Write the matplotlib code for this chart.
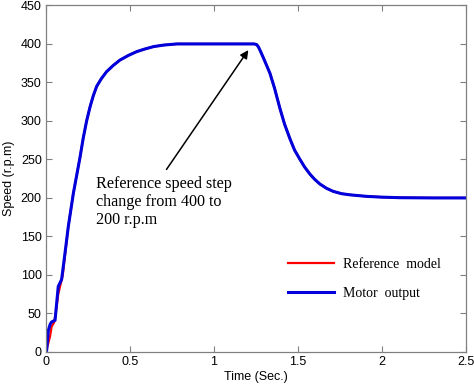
import matplotlib.pyplot as plt

## data ##
motor_t = [0, 0.004, 0.014, 0.025, 0.034, 0.054, 0.060, 0.073, 0.093, 0.113, 0.133,
           0.163, 0.202, 0.222, 0.242, 0.262, 0.282, 0.302, 0.33, 0.361, 0.40, 0.44,
           0.49, 0.54, 0.59, 0.64, 0.70, 0.78, 1.0, 1.24, 1.255, 1.265, 1.28, 1.30,
           1.333, 1.36, 1.393, 1.42, 1.452, 1.48, 1.512, 1.54, 1.571, 1.60, 1.631,
           1.67, 1.71, 1.76, 1.81, 1.91, 2.0, 2.107, 2.3, 2.5]
motor_speed = [0, 2, 28, 36, 39, 41, 55, 85, 94, 128, 163,
               206, 252, 278, 300, 318, 333, 345, 355, 364, 372, 379,
               385, 390, 393.5, 396.5, 398.5, 400, 400, 400, 399, 396, 389, 379,
               362, 343, 316, 296, 277, 262, 250, 240, 231, 224, 218,
               212.5, 208.5, 205.5, 204, 202, 201, 200.3, 200, 200]

# reference model: own start, then hidden under the motor trace
ref_t = [0, 0.012, 0.024, 0.034, 0.048, 0.058, 0.073, 0.10] + motor_t[10:]
ref_speed = [0, 10, 20, 33, 38, 50, 75, 100] + motor_speed[10:]

x_ticks = [0, 0.5, 1, 1.5, 2, 2.5]
y_ticks = [0, 50, 100, 150, 200, 250, 300, 350, 400, 450]

fig = plt.figure(figsize=(4.74, 3.88), dpi=100)
ax = fig.add_axes([0.097, 0.093, 0.886, 0.893])

ax.plot(ref_t, ref_speed, color='#ff0000', lw=1.6, label='Reference  model')
ax.plot(motor_t, motor_speed, color='#0000dd', lw=2.2, label='Motor  output')

ax.set_xlim(0, 2.5)
ax.set_ylim(0, 450)
ax.set_xticks(x_ticks)
ax.set_xticklabels(['0', '0.5', '1', '1.5', '2', '2.5'])
ax.set_yticks(y_ticks)

ax.tick_params(direction='in', top=True, right=True, length=4, width=0.8,
               color='#808080', labelsize=9, pad=3)
for lbl in ax.get_xticklabels() + ax.get_yticklabels():
    lbl.set_family('Liberation Sans')
for sp in ax.spines.values():
    sp.set_color('#808080')
    sp.set_linewidth(0.9)

ax.set_xlabel('Time (Sec.)', fontsize=9, family='Liberation Sans', labelpad=2)
ax.set_ylabel('Speed (r.p.m)', fontsize=9, family='Liberation Sans', labelpad=4)

## annotation ##
ax.annotate('', xy=(1.214, 395), xytext=(0.708, 234),
            arrowprops=dict(arrowstyle='-|>', color='black', lw=1.1,
                            mutation_scale=12))
ax.text(0.30, 228, 'Reference speed step\nchange from 400 to\n200 r.p.m',
        family='Liberation Serif', fontsize=11.6, va='top', ha='left',
        linespacing=1.15)

leg = ax.legend(loc='upper left', bbox_to_anchor=(0.576, 0.272), frameon=False,
                prop={'family': 'Liberation Serif', 'size': 10},
                handlelength=3.3, handletextpad=0.7, labelspacing=1.2,
                borderpad=0, borderaxespad=0)

fig.savefig('out.png', dpi=100)
